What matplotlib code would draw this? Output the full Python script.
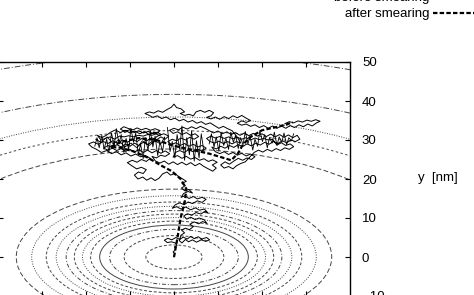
import matplotlib
matplotlib.use("Agg")
import matplotlib.pyplot as plt
from matplotlib.patches import Ellipse

plt.rcParams['font.family'] = ['Liberation Sans', 'DejaVu Sans']

# contour ellipses: semi-axis along y (nm); x semi-axis = ASPECT * b
ASPECT = 2.06
contour_b = [3.1, 5.5, 7.1, 8.2, 9.2, 10.1, 11.0, 11.9, 13.0, 14.1, 15.7, 17.4,
             27.7, 32.4, 35.9, 41.7, 51.8]
contour_style = [(0, (3, 2)), (0, (3, 2)), (0, (4, 2, 1, 2)), '-', (0, (3, 2)),
                 (0, (1, 1.5)), (0, (3, 2)), (0, (4, 2, 1, 2)), (0, (1, 1.5)),
                 (0, (3, 2)), (0, (1, 1.5)), (0, (5, 2.5)),
                 (0, (5, 2.5)), (0, (2.5, 2.5)), (0, (1, 1.5)), (0, (6, 2, 1, 2)),
                 (0, (6, 2, 1, 2))]

walk_trunk = [(0, 0), (0.2, 0.8), (-0.2, 1.3), (0.4, 1.9), (0.1, 2.6), (0.7, 3.0), (0.3, 3.6),
              (-0.6, 3.9), (-1.5, 3.7), (-2.2, 4.3), (-1.4, 4.8), (-0.5, 4.4), (0.4, 5.0),
              (1.3, 4.5), (2.1, 5.1), (3.0, 4.6), (3.8, 5.3), (4.6, 4.7), (5.5, 5.2), (6.3, 4.6),
              (7.4, 5.0), (8.1, 4.4), (7.2, 4.0), (6.2, 4.4), (5.1, 3.8), (4.2, 4.4), (3.3, 3.9),
              (2.6, 4.5), (1.8, 3.6), (1.2, 4.2), (1.6, 5.6), (2.4, 6.2), (1.7, 6.9), (2.6, 7.4),
              (3.5, 7.0), (4.4, 7.8), (3.6, 8.4), (4.6, 9.0), (5.6, 8.5), (6.5, 9.1), (7.5, 8.6),
              (6.8, 9.6), (5.7, 10.0), (4.8, 9.6), (3.8, 10.2), (2.9, 9.7), (2.2, 10.5), (3.1, 11.1),
              (4.0, 10.7), (5.0, 11.4), (6.1, 11.0), (7.0, 11.7), (7.8, 11.2), (6.9, 12.3),
              (5.8, 12.0), (4.9, 12.6), (3.8, 12.1), (2.7, 12.8), (1.6, 12.3), (0.6, 12.9),
              (-0.4, 12.5), (0.3, 13.4), (1.3, 13.9), (2.3, 13.4), (3.2, 14.1), (4.2, 13.7),
              (5.3, 14.4), (6.4, 14.0), (7.3, 14.8), (6.4, 15.3), (5.3, 14.9), (4.4, 15.5),
              (3.4, 15.0), (2.5, 15.7), (1.6, 15.3), (2.2, 16.3), (3.2, 16.8), (4.2, 16.4),
              (3.4, 17.3), (2.4, 17.0), (1.7, 17.7), (2.6, 18.3), (1.8, 18.9), (2.8, 19.4),
              (2.0, 20.0), (1.1, 20.6)]
walk_left = [(0.2, 21.4), (-0.8, 21.0), (-1.6, 21.8), (-2.6, 21.3), (-3.4, 20.2), (-4.3, 19.6),
             (-5.2, 20.3), (-6.2, 19.7), (-7.1, 20.5), (-8.2, 20.0), (-9.0, 21.0), (-8.1, 21.8),
             (-7.0, 21.4), (-6.3, 22.4), (-7.4, 23.0), (-8.5, 22.6), (-9.6, 23.4), (-10.6, 24.2),
             (-9.5, 24.8), (-8.4, 24.3), (-7.4, 25.0), (-6.3, 24.5), (-5.4, 25.3), (-6.5, 26.0),
             (-7.6, 25.7), (-8.7, 26.4), (-9.8, 25.9), (-10.9, 26.7), (-12.0, 26.2), (-13.1, 27.0),
             (-14.2, 26.5), (-15.3, 27.3), (-16.5, 26.8), (-17.6, 27.6), (-18.7, 28.2),
             (-19.4, 29.0), (-18.3, 29.5), (-17.2, 28.9), (-16.1, 29.6), (-15.0, 29.1),
             (-13.9, 29.8), (-12.8, 29.2), (-11.7, 30.0), (-10.6, 29.4), (-9.5, 30.2), (-8.4, 29.6),
             (-7.3, 30.4), (-6.2, 29.8), (-5.1, 30.6), (-4.0, 30.0), (-3.0, 30.8), (-2.0, 30.2),
             (-1.2, 31.0), (-2.3, 31.6), (-3.4, 31.2), (-4.5, 31.9), (-5.6, 31.4), (-6.7, 32.1),
             (-7.8, 31.6), (-8.9, 32.3), (-10.0, 31.8), (-11.1, 32.5), (-12.2, 31.9), (-13.3, 32.6),
             (-14.4, 32.0), (-15.4, 31.2), (-16.4, 30.6), (-17.4, 31.2), (-16.6, 30.0),
             (-15.6, 30.4), (-14.5, 30.8), (-13.5, 30.2), (-12.4, 31.0), (-11.3, 30.8),
             (-10.3, 31.1), (-9.2, 30.8), (-8.1, 31.2), (-7.0, 31.0), (-6.0, 31.4), (-5.0, 31.2),
             (-4.0, 31.6), (-3.2, 32.4), (-4.3, 32.9), (-5.3, 32.5), (-6.4, 33.0), (-7.4, 32.6),
             (-8.4, 33.1), (-9.3, 32.6), (-10.5, 33.0), (-11.4, 33.4), (-12.2, 32.8), (-11.2, 32.2),
             (-10.1, 32.6), (-9.0, 31.9), (-8.0, 32.4), (-6.9, 31.8), (-5.9, 32.2), (-4.8, 31.7),
             (-3.8, 32.0), (-2.9, 31.4), (-3.9, 30.9), (-5.0, 29.6), (-6.0, 28.8), (-7.0, 29.4),
             (-8.0, 28.6), (-9.0, 29.2), (-10.0, 28.4), (-11.0, 29.0), (-12.0, 28.2), (-13.0, 28.8),
             (-14.0, 28.0), (-15.0, 28.6), (-16.0, 27.9), (-15.0, 27.4), (-14.0, 27.9),
             (-13.0, 27.3), (-12.0, 27.8), (-11.0, 27.1), (-10.0, 27.6), (-9.0, 26.9), (-8.0, 27.5),
             (-7.0, 26.8), (-6.0, 27.4), (-5.0, 26.7), (-4.0, 27.3), (-3.0, 26.6), (-2.0, 27.2),
             (-1.0, 26.5), (-2.0, 25.8), (-3.0, 26.1), (-4.0, 25.4), (-5.0, 25.8), (-4.2, 24.6),
             (-3.2, 24.1), (-2.2, 24.6), (-1.2, 23.8), (-0.2, 24.4), (0.8, 23.7)]
walk_center = [(1.8, 24.3), (2.8, 23.6), (3.8, 24.2), (4.8, 23.4), (5.8, 24.0), (6.8, 23.2),
               (7.8, 22.6), (8.8, 22.0), (9.6, 22.8), (8.7, 23.6), (9.8, 24.3), (8.8, 24.9),
               (7.8, 24.5), (6.8, 25.2), (5.8, 24.8), (4.8, 25.5), (3.8, 25.1), (2.8, 25.8),
               (1.8, 25.3), (0.8, 26.0), (-0.2, 25.6), (0.3, 26.8), (1.3, 27.3), (2.3, 26.8),
               (3.3, 27.5), (4.3, 27.0), (5.3, 27.7), (6.3, 27.2), (7.3, 27.9), (6.4, 28.6),
               (5.4, 28.2), (4.4, 28.9), (3.4, 28.4), (2.4, 29.1), (1.4, 28.6), (0.4, 29.3),
               (-0.6, 28.8), (-1.4, 29.6), (-0.4, 30.2), (0.6, 29.8), (1.6, 30.5), (2.6, 30.0),
               (3.6, 30.7), (4.6, 30.2), (5.6, 30.9), (4.8, 31.6), (3.8, 31.2), (2.8, 31.9),
               (1.8, 31.4), (0.8, 32.1), (-0.2, 31.7), (-1.0, 32.5), (0.0, 33.0), (1.0, 32.6),
               (2.0, 33.3), (3.0, 32.8), (4.0, 33.4), (5.0, 32.9), (6.0, 33.5), (7.0, 33.0)]
walk_right = [(8.0, 32.4), (9.0, 31.8), (10.0, 32.3), (11.0, 31.6), (12.0, 32.1), (13.0, 31.4),
              (14.0, 31.9), (15.0, 31.2), (16.0, 31.8), (17.0, 31.1), (18.0, 31.7), (19.0, 31.0),
              (20.0, 31.6), (21.0, 30.9), (22.0, 31.5), (23.0, 30.8), (24.0, 31.4), (25.0, 30.7),
              (26.0, 31.3), (27.0, 30.6), (28.0, 31.2), (28.6, 30.2), (27.6, 29.6), (26.6, 30.0),
              (25.6, 29.3), (24.6, 29.8), (23.6, 29.1), (22.6, 29.6), (21.6, 28.9), (20.6, 29.4),
              (19.6, 28.7), (18.6, 29.2), (17.6, 28.5), (16.6, 29.0), (15.6, 28.3), (14.6, 28.8),
              (13.6, 28.1), (12.6, 28.6), (11.6, 27.9), (10.6, 28.4), (9.6, 27.7), (8.6, 28.2),
              (9.4, 27.0), (10.4, 26.5), (11.4, 27.0), (12.4, 26.3), (13.4, 26.8), (14.4, 26.1),
              (15.4, 26.6), (16.4, 25.9), (17.4, 26.4), (18.4, 25.7), (17.6, 25.0), (16.6, 25.4),
              (15.6, 24.8), (14.6, 25.3), (13.6, 24.6), (12.6, 23.8), (11.6, 24.4), (10.6, 23.6),
              (11.4, 22.8), (12.4, 23.2), (13.4, 22.6), (14.2, 23.4), (15.2, 24.0), (16.2, 24.4),
              (17.2, 25.6), (18.2, 26.8), (19.2, 27.4), (20.2, 26.9), (21.2, 27.6), (22.2, 27.1),
              (23.2, 27.8), (24.2, 27.3), (25.2, 28.0), (26.2, 27.6), (27.2, 28.3), (26.4, 29.0),
              (25.4, 28.6), (24.4, 29.3), (23.4, 28.7), (22.4, 30.2), (21.4, 30.0), (20.4, 30.4),
              (19.4, 30.1), (18.4, 30.5), (17.4, 30.0), (16.4, 30.6), (15.4, 30.2), (14.4, 30.7),
              (13.4, 30.3), (12.4, 30.8), (11.4, 30.4), (10.4, 30.9), (9.4, 30.5), (8.4, 31.0),
              (7.4, 30.4), (8.2, 29.6), (9.2, 29.2), (10.2, 29.7), (11.2, 29.1), (12.2, 29.6),
              (13.2, 29.0), (14.2, 29.6), (15.2, 29.2)]
walk_top = [(14.2, 31.0), (13.2, 32.4), (12.2, 32.9), (11.2, 33.5), (10.2, 33.0), (9.2, 33.7),
            (8.2, 34.4), (7.2, 34.0), (6.2, 34.7), (5.2, 34.3), (4.2, 35.0), (3.2, 34.6),
            (2.2, 35.3), (1.2, 34.9), (0.2, 35.6), (-0.8, 35.2), (-1.8, 35.9), (-2.8, 35.5),
            (-3.8, 36.2), (-4.8, 35.8), (-5.8, 36.4), (-6.6, 36.8), (-5.6, 37.2), (-4.6, 36.9),
            (-3.6, 37.5), (-2.6, 37.1), (-1.6, 37.8), (-0.6, 38.4), (0.0, 39.2), (0.6, 38.3),
            (1.6, 38.0), (2.4, 37.2), (1.4, 36.8), (2.4, 36.3), (3.4, 36.6), (4.4, 36.2),
            (5.0, 37.2), (6.0, 37.6), (7.0, 37.1), (8.0, 37.6), (9.0, 37.0), (8.4, 36.2),
            (7.4, 35.8), (8.4, 35.4), (9.4, 35.9), (10.4, 35.3), (11.4, 36.0), (12.4, 35.5),
            (13.4, 36.2), (14.4, 35.7), (15.4, 36.3), (16.4, 35.6), (17.4, 35.0), (16.4, 34.5),
            (15.4, 34.9), (14.4, 34.3), (15.4, 33.8), (16.4, 34.1), (17.4, 33.5), (18.4, 33.9),
            (19.4, 33.2), (20.4, 33.7), (21.4, 33.0), (22.4, 33.6), (23.4, 33.0), (24.4, 33.6),
            (25.4, 33.0), (26.4, 33.7), (27.4, 33.2), (28.4, 33.9), (29.4, 33.4), (30.4, 34.1),
            (31.4, 33.6), (32.4, 34.4), (33.2, 34.8), (32.2, 35.2), (31.2, 34.8), (30.2, 35.1),
            (29.2, 34.6), (28.2, 34.9), (27.2, 34.4), (26.2, 34.7), (25.2, 34.2)]
# further strands of the same walk through the dense clusters
walk_fill_left = [(-18.0, 28.4), (-17.5, 30.6), (-17.0, 28.0), (-16.4, 31.2), (-15.9, 27.6),
                  (-15.3, 30.2), (-14.8, 26.9), (-14.2, 31.8), (-13.6, 28.4), (-13.1, 32.9),
                  (-12.5, 29.0), (-12.0, 31.4), (-11.4, 26.8), (-10.9, 30.4), (-10.3, 27.6),
                  (-9.8, 33.0), (-9.2, 29.4), (-8.7, 31.8), (-8.1, 26.2), (-7.6, 29.0),
                  (-7.0, 25.2), (-6.5, 30.6), (-5.9, 27.4), (-5.4, 32.4), (-4.8, 28.2),
                  (-4.3, 31.0), (-3.7, 26.0), (-3.2, 29.6), (-2.6, 27.0), (-2.1, 30.8),
                  (-3.0, 29.0), (-4.4, 29.8), (-5.6, 28.6), (-7.2, 29.8), (-8.4, 28.0),
                  (-9.8, 29.2), (-11.2, 28.2), (-12.6, 30.0), (-13.8, 29.0), (-15.2, 30.8),
                  (-16.6, 29.4), (-17.8, 30.2)]
walk_fill_center = [(6.8, 27.0), (6.2, 31.6), (5.7, 25.4), (5.1, 29.8), (4.6, 24.6), (4.0, 32.4),
                    (3.5, 26.2), (2.9, 30.6), (2.4, 24.8), (1.8, 33.6), (1.3, 27.6), (0.7, 31.4),
                    (0.2, 25.4), (-0.4, 29.6), (-0.9, 27.0), (-1.5, 33.2)]
walk_fill_right = [(8.0, 29.0), (8.5, 31.6), (9.1, 28.2), (9.6, 30.8), (10.2, 27.2), (10.7, 31.9),
                   (11.3, 28.6), (11.8, 30.4), (12.4, 27.6), (12.9, 32.0), (13.5, 29.4),
                   (14.0, 31.2), (14.6, 27.8), (15.1, 30.6), (15.7, 28.8), (16.2, 32.2),
                   (16.8, 29.0), (17.3, 31.0), (17.9, 27.4), (18.4, 30.2), (19.0, 28.4),
                   (19.5, 32.4), (20.1, 29.6), (20.6, 31.4), (21.2, 28.0), (21.7, 30.6),
                   (22.3, 29.2), (22.8, 32.0), (23.4, 28.6), (23.9, 30.8), (24.5, 29.4),
                   (25.0, 31.8), (25.6, 28.8), (26.1, 30.6), (26.7, 29.8), (27.2, 31.6)]

# walk after smearing (nm)
smear_x = [0, 0.8, 1.5, 2.5, 2.8, 1.5, -0.5, -3.0, -6.0, -9.0, -12.0, -14.5, -12.0, -8.0, -4.0,
           0.0, 4.0, 8.0, 11.0, 13.0, 14.5, 15.5, 17.0, 20.0, 24.0, 27.0]
smear_y = [0, 5, 10, 14.5, 17.5, 20, 22, 23.5, 25.5, 27, 28, 28.2, 29.5, 30.5, 30, 28.5, 27.5,
           26.5, 25.5, 24.8, 26.5, 28.5, 30.5, 32.5, 33.5, 34.5]

yticks = [-10, 0, 10, 20, 30, 40, 50]
xticks = [-30, -20, -10, 0, 10, 20, 30]

fig = plt.figure(figsize=(4.74, 2.95), dpi=100)
ax = fig.add_axes([-2 / 474, -1 / 295, 352 / 474, 234 / 295])
ax.set_xlim(-40, 40)
ax.set_ylim(-10, 50)

for b, ls in zip(contour_b, contour_style):
    e = Ellipse((0, 0), width=2 * ASPECT * b, height=2 * b, fill=False,
                edgecolor='#444444', linewidth=0.7, linestyle=ls)
    ax.add_patch(e)

walk = walk_trunk + walk_left + walk_center + walk_right + walk_top
l1, = ax.plot([p[0] for p in walk], [p[1] for p in walk], color='black', linewidth=0.7,
              label='before smearing')
for strand in (walk_fill_left, walk_fill_center, walk_fill_right):
    ax.plot([p[0] for p in strand], [p[1] for p in strand], color='black', linewidth=0.6)
l2, = ax.plot(smear_x, smear_y, color='black', linewidth=1.6, dashes=(2, 1),
              label='after smearing')

ax.set_xticks(xticks)
ax.set_yticks(yticks)
ax.tick_params(axis='x', top=True, bottom=True, direction='in', length=3.6,
               labelbottom=False, width=0.8)
ax.tick_params(axis='y', left=True, right=True, direction='in', length=3.6,
               labelleft=False, labelright=True, pad=8.6, labelsize=9.5, width=0.8)
for s in ax.spines.values():
    s.set_linewidth(1.0)

fig.text(418 / 474, 1 - 178 / 295, 'y  [nm]', va='center', ha='left', fontsize=9.5)

ax.legend(handles=[l1, l2], loc='upper right', bbox_to_anchor=(486 / 474, 1 + 8 / 295),
          bbox_transform=fig.transFigure, markerfirst=False, frameon=False,
          handlelength=4, handletextpad=0.3, borderpad=0, borderaxespad=0,
          labelspacing=0.3, fontsize=9.5)

fig.savefig('out.png', dpi=100)
